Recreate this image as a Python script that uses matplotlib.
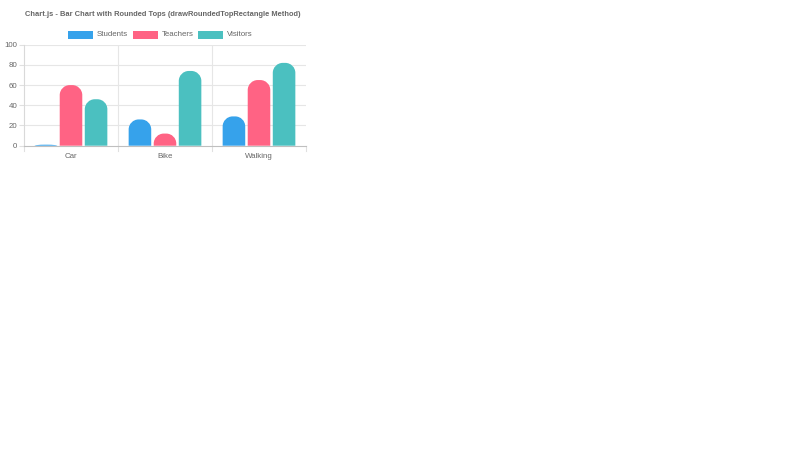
import matplotlib
matplotlib.use("Agg")
import matplotlib.pyplot as plt
from matplotlib.path import Path
from matplotlib.patches import PathPatch, Rectangle

categories = ["Car", "Bike", "Walking"]
series_names = ["Students", "Teachers", "Visitors"]
students = [1, 26, 29]
teachers = [60, 12, 65]
visitors = [46, 74, 82]
colors = ["#36A2EB", "#FF6384", "#4BC0C0"]
y_ticks = [0, 20, 40, 60, 80, 100]

W, H = 800, 450
plt.rcParams["font.family"] = ["Liberation Sans", "DejaVu Sans"]
fig = plt.figure(figsize=(W / 100, H / 100), dpi=100)

# axes box in pixels (left, top, right, bottom)
L, T, R, B = 24, 44.7, 306, 145.7
ax = fig.add_axes([L / W, 1 - B / H, (R - L) / W, (B - T) / H])
ax.set_xlim(-0.5, len(categories) - 0.5)
ax.set_ylim(0, 100)

px_x = len(categories) / (R - L)   # data units per pixel
px_y = 100 / (B - T)


def rounded_top_bar(ax, xc, w, h, color, r_px=10):
    """Bar with rounded top corners, drawn as a path in data coords."""
    x0, x1 = xc - w / 2, xc + w / 2
    ry = min(r_px * px_y, h)
    rx = min(r_px * px_x, w / 2)
    k = 0.5523
    verts = [
        (x0, 0), (x0, h - ry),
        (x0, h - ry + k * ry), (x0 + rx - k * rx, h), (x0 + rx, h),
        (x1 - rx, h),
        (x1 - rx + k * rx, h), (x1, h - ry + k * ry), (x1, h - ry),
        (x1, 0), (x0, 0),
    ]
    codes = [Path.MOVETO, Path.LINETO,
             Path.CURVE4, Path.CURVE4, Path.CURVE4,
             Path.LINETO,
             Path.CURVE4, Path.CURVE4, Path.CURVE4,
             Path.LINETO, Path.CLOSEPOLY]
    ax.add_patch(PathPatch(Path(verts, codes), facecolor=color,
                           edgecolor="none", zorder=3))


# gridlines
for v in y_ticks[1:]:
    ax.axhline(v, color="#e6e6e6", lw=0.8, zorder=1)
for i in range(1, len(categories)):
    ax.axvline(i - 0.5, color="#e6e6e6", lw=0.8, zorder=1)

slot = 0.8 / 3
bar_w = slot * 0.9
for s, (vals, col) in enumerate(zip([students, teachers, visitors], colors)):
    for i, v in enumerate(vals):
        xc = i - 0.4 + slot * (s + 0.5)
        rounded_top_bar(ax, xc, bar_w, v, col)

for side in ["top", "right"]:
    ax.spines[side].set_visible(False)
ax.spines["left"].set_color("#d9d9d9")
ax.spines["bottom"].set_color("#bfbfbf")
ax.spines["left"].set_linewidth(0.8)
ax.spines["bottom"].set_linewidth(0.8)

fs = 5.7
ax.set_yticks(y_ticks)
ax.set_yticklabels([str(v) for v in y_ticks])
ax.set_xticks(range(len(categories)))
ax.set_xticklabels(categories)
ax.tick_params(axis="x", length=0, pad=5, labelsize=fs, labelcolor="#666666")
ax.tick_params(axis="y", length=3.6, width=0.8, color="#e0e0e0", pad=1.2,
               labelsize=fs, labelcolor="#666666")

# category boundary tick marks below x axis
for i in range(len(categories) + 1):
    ax.plot([i - 0.5, i - 0.5], [0, -5 * px_y], color="#e0e0e0", lw=0.8,
            clip_on=False, zorder=1)

fig.text(163 / W, 1 - 14 / H, "Chart.js - Bar Chart with Rounded Tops (drawRoundedTopRectangle Method)",
         ha="center", va="center", fontsize=5.4, fontweight="bold", color="#666666")

# legend
leg_x = [68, 133, 198]
for x, name, col in zip(leg_x, series_names, colors):
    fig.patches.append(Rectangle((x / W, 1 - 38.5 / H), 25 / W, 8 / H,
                                 transform=fig.transFigure, facecolor=col,
                                 edgecolor="none"))
    fig.text((x + 29) / W, 1 - 34.5 / H, name, ha="left", va="center",
             fontsize=fs, color="#666666")

fig.savefig("out.png", dpi=100)
